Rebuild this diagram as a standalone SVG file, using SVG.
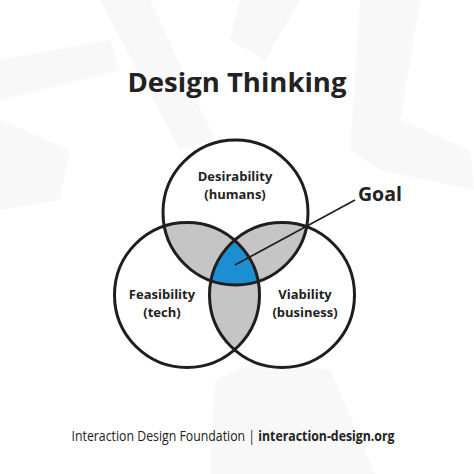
<svg xmlns="http://www.w3.org/2000/svg" width="474" height="474" viewBox="0 0 474 474">
<style>
.t{font-family:"Open Sans","Liberation Sans",sans-serif;fill:#222;}
.b{font-weight:700;}
.ring{fill:none;stroke:#1e1e1e;stroke-width:3;}
.gr{fill:#c6c5c6;}
.bl{fill:#1b8fd2;}
.lbl{font-size:13px;}
</style>
<defs>
<clipPath id="cL"><circle cx="187" cy="295" r="72.5"/></clipPath>
<clipPath id="cR"><circle cx="282" cy="295" r="72.5"/></clipPath>
</defs>
<rect width="474" height="474" fill="#ffffff"/>
<g id="background" fill="#f8f8f8">
<path d="M100 0 L150 0 L215 140 L180 150 Z"/>
<path d="M240 0 L300 0 L265 60 L230 40 Z"/>
<path d="M360 0 L420 0 L400 120 L470 150 L474 190 L380 170 L350 150 Z"/>
<path d="M0 60 L110 40 L120 70 L0 100 Z"/>
<path d="M0 120 L70 150 L60 200 L0 210 Z"/>
<path d="M210 474 L215 380 L260 360 L330 370 L375 474 Z"/>
</g>
<text class="t b" x="237" y="92" font-size="27.5" text-anchor="middle">Design Thinking</text>
<g id="regions">
<circle cx="235.5" cy="212.5" r="72.5" class="gr" clip-path="url(#cL)"/>
<circle cx="235.5" cy="212.5" r="72.5" class="gr" clip-path="url(#cR)"/>
<circle cx="187" cy="295" r="72.5" class="gr" clip-path="url(#cR)"/>
<g clip-path="url(#cL)"><circle cx="235.5" cy="212.5" r="72.5" class="bl" clip-path="url(#cR)"/></g>
</g>
<g id="desirability">
<circle cx="235.5" cy="212.5" r="72.5" class="ring"/>
<text class="t b lbl" x="235" y="181" text-anchor="middle">Desirability</text>
<text class="t b lbl" x="235" y="199" text-anchor="middle">(humans)</text>
</g>
<g id="feasibility">
<circle cx="187" cy="295" r="72.5" class="ring"/>
<text class="t b lbl" x="162" y="299" text-anchor="middle">Feasibility</text>
<text class="t b lbl" x="162" y="317" text-anchor="middle">(tech)</text>
</g>
<g id="viability">
<circle cx="282" cy="295" r="72.5" class="ring"/>
<text class="t b lbl" x="305" y="299" text-anchor="middle">Viability</text>
<text class="t b lbl" x="305" y="317" text-anchor="middle">(business)</text>
</g>
<g id="connectors">
<line x1="355" y1="200" x2="235" y2="265" stroke="#1e1e1e" stroke-width="1.6"/>
</g>
<g id="goal">
<text class="t b" x="358" y="201" font-size="19.5">Goal</text>
</g>
<text class="t" transform="translate(233,441) scale(0.85,1)" x="0" y="0" font-size="14.5" text-anchor="middle">Interaction Design Foundation | <tspan class="b">interaction-design.org</tspan></text>
</svg>
